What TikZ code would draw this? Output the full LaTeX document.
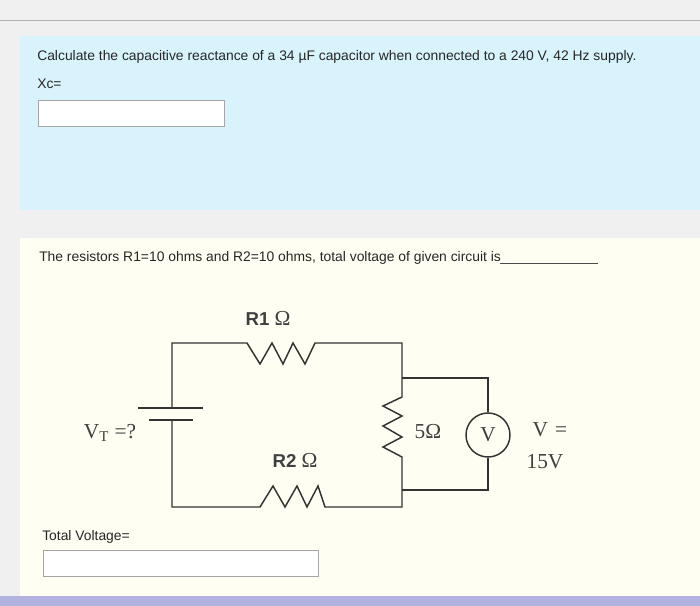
\documentclass[tikz,border=0pt]{standalone}
\usepackage{fontspec}
\setmainfont{Liberation Sans}
\newfontfamily\serifx{Liberation Serif}
\begin{document}
\begin{tikzpicture}[x=0.75pt,y=-0.75pt,
  wire/.style={line width=1.1pt,draw=black!80},
  txt/.style={anchor=west,inner sep=0pt,font=\fontsize{10.4}{12}\selectfont,text=black!85},
  ckt/.style={inner sep=0pt,font=\serifx\fontsize{16}{18}\selectfont,text=black!75},
  inbox/.style={draw=black!35,fill=white,line width=0.6pt}]
\useasboundingbox (0,0) rectangle (700,606);
\fill[black!6] (0,0) rectangle (700,606);
\draw[black!30] (0,20) -- (700,20);
\fill[cyan!15!white] (20,36) rectangle (700,210);
\fill[cyan!7!yellow!5!white] (20,238) rectangle (700,596);
\fill[black!40!blue!30] (0,596) rectangle (700,606);
\node[txt] (q1) at (37,57) {Calculate the capacitive reactance of a 34 µF capacitor when connected to a 240 V, 42 Hz supply.};
\node[txt] (xc) at (37,84) {Xc=};
\draw[inbox] (38,100) rectangle (224,126);
\node[txt] (q2) at (39,258) {The resistors R1=10 ohms and R2=10 ohms, total voltage of given circuit is};
\draw[black!70] (500,263) -- (598,263);
\node[txt] (tv) at (42,537) {Total Voltage=};
\draw[inbox] (43,550) rectangle (318,576);
% circuit
\draw[wire] (172,408) -- (172,343) -- (247,343) -- (260,364) -- (272,343) -- (283,364) -- (293,343) -- (305,364) -- (315,343) -- (402,343) -- (402,397)
  -- (383,406) -- (402,416) -- (383,426) -- (402,437) -- (383,447) -- (402,457) -- (402,507)
  -- (325,507) -- (318,486) -- (307,507) -- (297,486) -- (285,507) -- (273,486) -- (260,507) -- (172,507) -- (172,420);
\draw[wire] (138,408) -- (203,408);
\draw[wire] (149,420) -- (193,420);
\node[draw=black!80,line width=1.1pt,circle,minimum size=44pt*0.75,ckt] (vm) at (488,435) {V};
\draw[wire] (402,378) -- (488,378) -- (vm.north);
\draw[wire] (402,490) -- (488,490) -- (vm.south);
\node[ckt,font=\fontsize{14}{16}\selectfont] (r1) at (268,318) {\textbf{R1} {\serifx\fontsize{16}{18}\selectfont Ω}};
\node[ckt,font=\fontsize{14}{16}\selectfont] (r2) at (295,460) {\textbf{R2} {\serifx\fontsize{16}{18}\selectfont Ω}};
\node[ckt] (r5) at (428,432) {5Ω};
\node[ckt] (veq) at (550,430) {V\,\,=};
\node[ckt] (v15) at (545,462) {15V};
\node[ckt] (vt) at (110,433) {V\textsubscript{T} =?};
\end{tikzpicture}
\end{document}
